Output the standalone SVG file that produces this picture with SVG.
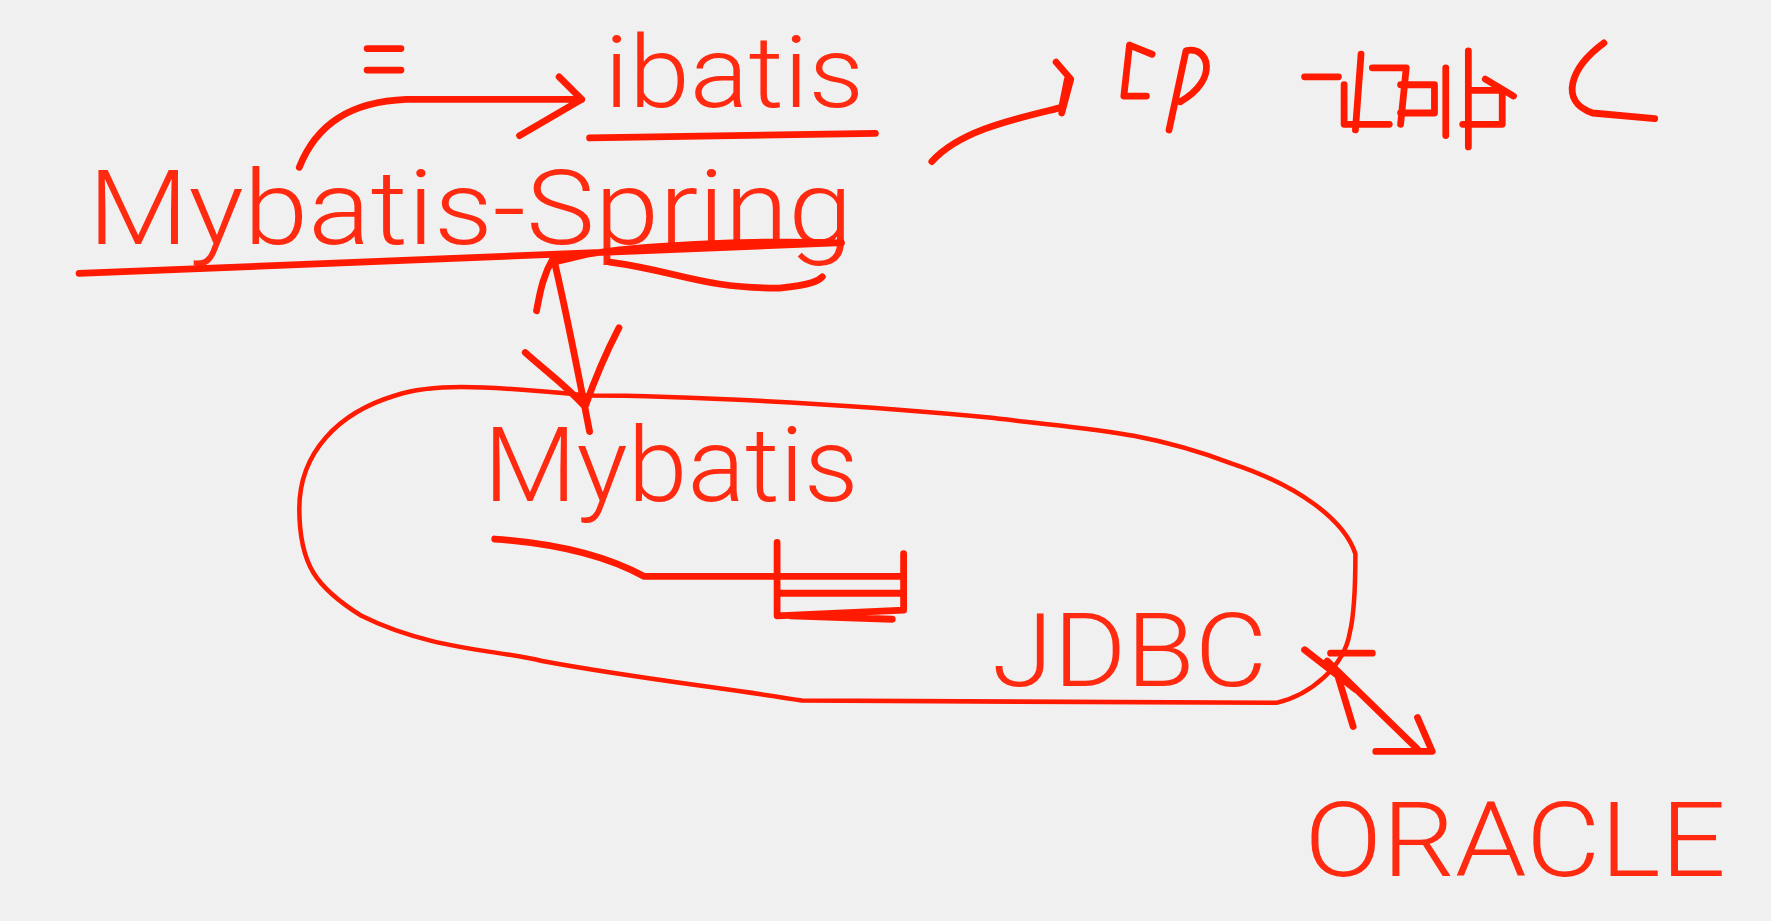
<svg xmlns="http://www.w3.org/2000/svg" width="1771" height="921" viewBox="0 0 1771 921">
<style>
.t{font-family:Roboto,"Liberation Sans",Arial,sans-serif;font-weight:300;fill:#ff2a10;}
.s{fill:none;stroke:#ff1a00;stroke-width:6;stroke-linecap:round;stroke-linejoin:round;}
.th{fill:none;stroke:#ff1a00;stroke-width:4;stroke-linecap:round;stroke-linejoin:round;}
</style>
<rect width="1771" height="921" fill="#f0f0f0"/>
<g transform="scale(1.1295,1.130)">
<g id="ibatis"><text class="t" x="535" y="95" font-size="88" textLength="230" lengthAdjust="spacingAndGlyphs">ibatis</text></g>
<g id="mybatis-spring"><text class="t" x="78" y="216" font-size="92" textLength="677" lengthAdjust="spacingAndGlyphs">Mybatis-Spring</text></g>
<g id="mybatis"><text class="t" x="428" y="443" font-size="92" textLength="332" lengthAdjust="spacingAndGlyphs">Mybatis</text></g>
<g id="jdbc"><text class="t" x="878" y="607" font-size="90" textLength="244" lengthAdjust="spacingAndGlyphs">JDBC</text></g>
<g id="oracle"><text class="t" x="1155" y="775" font-size="92" textLength="373" lengthAdjust="spacingAndGlyphs">ORACLE</text></g>
<g id="connectors">
<path class="s" d="M325 43 L355 43 M325 62 L355 62"/>
<path class="s" d="M265 148 C280 110 310 90 360 88 L515 88 M495 68 L515 88 L460 120"/>
<path class="s" d="M522 122 L775 118"/>
<path class="s" d="M825 143 C850 115 900 105 940 95 L945 70 M935 55 L948 70 L940 100"/>
<path class="s" d="M1000 40 L995 85 L1015 85 M1000 40 L1020 48 M1035 115 L1050 45 C1070 40 1080 70 1045 90"/>
<path class="s" d="M1155 68 L1185 68 M1205 48 L1200 115 M1190 75 L1190 110 L1230 110 M1215 60 L1245 60 L1240 110 M1240 75 L1270 75 L1270 100 L1240 100 M1280 60 L1280 120 M1300 45 L1300 130 M1300 80 L1330 80 L1330 110 L1295 110 M1315 70 L1340 85"/>
<path class="s" d="M1420 38 C1390 60 1380 90 1410 100 L1465 105"/>
<path class="s" d="M70 242 L740 215 M490 232 L520 225 C560 218 660 212 745 215 M540 232 C600 240 620 255 690 255 C720 252 725 248 728 245"/>
<path class="s" d="M490 228 C480 245 478 260 475 275 M490 228 C500 270 510 320 522 382 M465 312 C485 330 500 340 518 360 M548 290 C535 315 525 340 518 360"/>
<path class="th" d="M520 350 C420 340 380 340 350 350 C300 365 265 400 265 450 C265 500 280 520 320 545 C380 575 440 575 480 585 C560 600 650 610 710 620 L1130 622 C1160 615 1190 590 1195 560 C1200 540 1200 510 1200 490 C1190 460 1150 430 1090 410 C1010 380 960 380 880 370 C780 360 620 350 520 350"/>
<path class="s" d="M438 477 C480 480 530 488 570 510 L800 510 M688 480 L688 545 L800 540 L800 490 M688 525 L800 525 M700 545 L790 548"/>
<path class="s" d="M1155 575 L1200 610 M1178 578 L1215 578 M1175 585 L1255 663 M1185 600 L1198 643 M1255 635 L1268 665 L1218 665"/>
</g>
</g>
</svg>
